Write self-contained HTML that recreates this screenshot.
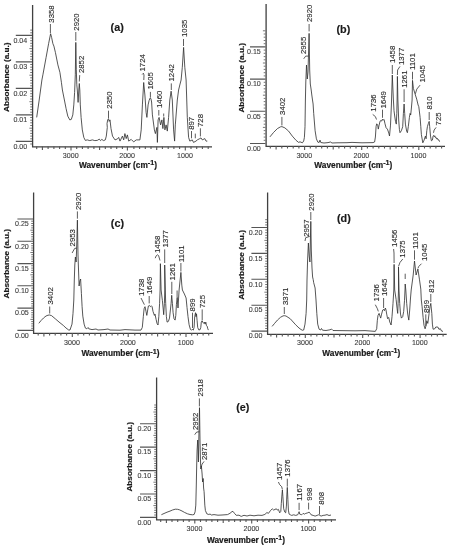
<!DOCTYPE html>
<html lang="en"><head><meta charset="utf-8"><title>FTIR spectra</title>
<style>
html,body{margin:0;padding:0;background:#fff;}
svg{display:block;font-family:"Liberation Sans",sans-serif;}
.ax{stroke:#404040;stroke-width:1.3;fill:none}
.tk{stroke:#555;stroke-width:1.1;fill:none}
.mt{stroke:#666;stroke-width:0.9;fill:none}
.cv{stroke:#303030;stroke-width:0.82;fill:none;stroke-linejoin:round}
.ld{stroke:#333;stroke-width:0.8;fill:none}
.tl{font-size:7.1px;fill:#3c3c3c;stroke:#3c3c3c;stroke-width:0.1}
.pk{font-size:7.8px;fill:#2a2a2a;stroke:#2a2a2a;stroke-width:0.12}
.ti{font-size:8.25px;font-weight:bold;fill:#1a1a1a;stroke:#1a1a1a;stroke-width:0.2}
 .tx{font-size:8.3px}
.pl{font-size:10.8px;font-weight:bold;fill:#1a1a1a;stroke:#1a1a1a;stroke-width:0.15}
</style></head><body>
<svg width="449" height="550" viewBox="0 0 449 550">
<rect width="449" height="550" fill="#fff"/>
<g>
<path class="ax" d="M32.6 5V146.8H212"/>
<path class="tk" d="M15.8 35.4H32M15.8 61.9H32M15.8 88.4H32M15.8 114.9H32M15.8 141.4H32"/>
<path class="mt" d="M30.2 30.1H32M30.2 32.8H32M30.2 38H32M30.2 40.7H32M30.2 43.3H32M30.2 46H32M29.4 48.6H32M30.2 51.3H32M30.2 54H32M30.2 56.6H32M30.2 59.2H32M30.2 64.5H32M30.2 67.2H32M30.2 69.8H32M30.2 72.5H32M29.4 75.2H32M30.2 77.8H32M30.2 80.4H32M30.2 83.1H32M30.2 85.8H32M30.2 91H32M30.2 93.7H32M30.2 96.3H32M30.2 99H32M29.4 101.7H32M30.2 104.3H32M30.2 106.9H32M30.2 109.6H32M30.2 112.2H32M30.2 117.5H32M30.2 120.2H32M30.2 122.8H32M30.2 125.5H32M29.4 128.2H32M30.2 130.8H32M30.2 133.4H32M30.2 136.1H32M30.2 138.8H32M30.2 144H32"/>
<text class="tl" x="13.4" y="42.6">0.04</text>
<text class="tl" x="13.4" y="69.1">0.03</text>
<text class="tl" x="13.4" y="95.6">0.02</text>
<text class="tl" x="13.4" y="122.1">0.01</text>
<text class="tl" x="13.4" y="148.6">0.00</text>
<path class="tk" d="M71 146.5V150.5M127.4 146.5V150.5M185.3 146.5V150.5M208.2 146.5V149M202.4 146.5V149M196.7 146.5V149M191 146.5V149M179.6 146.5V149M173.9 146.5V149M168.2 146.5V149M162.4 146.5V149M156.7 146.5V150M151 146.5V149M145.3 146.5V149M139.6 146.5V149M133.9 146.5V149M122.4 146.5V149M116.7 146.5V149M111 146.5V149M105.3 146.5V149M99.6 146.5V150M93.9 146.5V149M88.1 146.5V149M82.4 146.5V149M76.7 146.5V149M65.3 146.5V149M59.6 146.5V149M53.9 146.5V149M48.1 146.5V149M42.4 146.5V150M36.7 146.5V149"/>
<text class="tl" x="70.7" y="157.6" text-anchor="middle">3000</text>
<text class="tl" x="127.1" y="157.6" text-anchor="middle">2000</text>
<text class="tl" x="185" y="157.6" text-anchor="middle">1000</text>
<text class="ti tx" x="118" y="168" text-anchor="middle">Wavenumber (cm<tspan dy="-2.8" font-size="7.2">-1</tspan><tspan dy="2.8">)</tspan></text>
<text class="ti" transform="translate(8.8 77.2) rotate(-90) scale(1 0.88)" text-anchor="middle">Absorbance (a.u.)</text>
<text class="pl" x="110.6" y="31.2">(a)</text>
<polyline class="cv" points="36.7,117.4 39.2,100 41.9,80 42.9,74.8 46.1,57.4 48.6,43.7 50.6,33.7 51.6,37.4 52.9,43.7 53.9,46.1 55.4,52.4 57.9,64.9 59.9,72.3 61.4,82.3 62.4,90 64.4,100 66.1,108.7 67.8,116.2 69.8,119.9 71.3,119.4 72.8,114.9 73.8,104.9 74.6,92.5 75.1,80 75.3,74.8 75.8,42.4 76.3,69.8 76.8,84.8 77.3,90 78.1,102.4 78.8,90 79.3,83.5 79.8,90 80.3,104.9 81.1,117.4 82.3,129.9 83.8,137.4 85.3,140.4 87.3,139.9 89.8,140.6 92.3,139.9 94.8,140.6 97.3,140.4 99.3,139.1 100.5,140.6 101.8,139.4 103.5,140.6 105.3,139.9 106.3,136.1 107.3,127.4 107,123.7 107.7,119.9 108.5,118.7 109.2,121.4 110,119.9 111,128.6 112.5,136.1 115,139.9 117.5,138.9 118.7,137.4 120,141.1 122.4,136.1 123.7,139.9 124.9,133.6 126.2,138.6 127.4,134.9 128.7,141.1 131.2,139.4 133.7,141.9 136.2,139.9 139.9,139.9 141.2,129.9 142.4,104.9 143.7,82.5 143.9,84.8 144.9,95 146.1,112.4 146.9,117.4 148.1,104.9 149.1,100.5 150.1,98 150.9,98.5 151.6,102 152.4,114.9 154.4,129.9 155.4,133.6 156.9,127.4 157.4,142.4 158.1,119.9 159.1,117.4 160.6,124.9 161.9,119.9 162.9,128.6 163.9,117.4 164.9,129.9 166.1,124.9 167.3,131.1 168.6,117.4 169.8,100 171.1,91.2 172.3,100 173.6,129.9 174.6,141.1 175.3,124.9 177.3,100 178.6,90 179.8,85 181.1,80 182.3,67.3 183.6,47.4 184.8,67.3 186.1,80 187.3,117.4 188.6,137.4 189.8,141.1 192.3,139.9 193.5,142.4 196,141.1 197.3,139.9 199.8,138.6 201,137.9 202.3,139.9 204.8,138.6 206,141.1 207.3,141.1"/>
<text class="pk" transform="translate(53.6 22.7) rotate(-90) scale(1 1)">3358</text>
<text class="pk" transform="translate(78.8 30.7) rotate(-90) scale(1 1)">2920</text>
<text class="pk" transform="translate(83.7 73.1) rotate(-90) scale(1 1)">2852</text>
<text class="pk" transform="translate(111.8 108.7) rotate(-90) scale(1 1)">2350</text>
<text class="pk" transform="translate(144.6 71.5) rotate(-90) scale(1 1)">1724</text>
<text class="pk" transform="translate(153.3 89.5) rotate(-90) scale(1 1)">1605</text>
<text class="pk" transform="translate(161.8 108) rotate(-90) scale(1 1)">1460</text>
<text class="pk" transform="translate(174 81.5) rotate(-90) scale(1 1)">1242</text>
<text class="pk" transform="translate(186.5 37) rotate(-90) scale(1 1)">1035</text>
<text class="pk" transform="translate(193.6 129.8) rotate(-90) scale(1 1)">897</text>
<text class="pk" transform="translate(203 127) rotate(-90) scale(1 1)">728</text>
<path class="ld" d="M50.4 24L50.4 33M75.8 32L75.8 40.8M79.7 75.1L79.3 81.5M108.5 110.7L108.5 118.3M142.2 74.5L143.4 73.2L144 75L143.8 80M150.4 91.9L150.4 97.6M158.8 110L158.8 115.6M171.3 83.4L171.3 90M183.5 39L183.5 46M191.5 131L191.5 138.3M195.3 133.6L195.3 138.3M163.7 113.5L163.7 116.5M200.4 128.3L200.4 136.4"/>
</g>
<g>
<path class="ax" d="M266.1 4V146.3H445"/>
<path class="tk" d="M250 46.9H265.5M250 79.1H265.5M250 111.3H265.5M250 143.5H265.5"/>
<path class="mt" d="M262.9 30.8H265.5M263.7 34H265.5M263.7 37.2H265.5M263.7 40.5H265.5M263.7 43.7H265.5M263.7 50.1H265.5M263.7 53.3H265.5M263.7 56.6H265.5M263.7 59.8H265.5M262.9 63H265.5M263.7 66.2H265.5M263.7 69.4H265.5M263.7 72.7H265.5M263.7 75.9H265.5M263.7 82.3H265.5M263.7 85.5H265.5M263.7 88.8H265.5M263.7 92H265.5M262.9 95.2H265.5M263.7 98.4H265.5M263.7 101.6H265.5M263.7 104.9H265.5M263.7 108.1H265.5M263.7 114.5H265.5M263.7 117.7H265.5M263.7 121H265.5M263.7 124.2H265.5M262.9 127.4H265.5M263.7 130.6H265.5M263.7 133.8H265.5M263.7 137.1H265.5M263.7 140.3H265.5"/>
<text class="tl" x="247" y="54.1">0.15</text>
<text class="tl" x="247" y="86.3">0.10</text>
<text class="tl" x="247" y="118.5">0.05</text>
<text class="tl" x="247" y="150.7">0.00</text>
<path class="tk" d="M304.6 146V150M361.7 146V150M418.8 146V150M441.6 146V148.5M435.9 146V148.5M430.2 146V148.5M424.5 146V148.5M413.1 146V148.5M407.4 146V148.5M401.7 146V148.5M396 146V148.5M390.2 146V149.5M384.5 146V148.5M378.8 146V148.5M373.1 146V148.5M367.4 146V148.5M356 146V148.5M350.3 146V148.5M344.6 146V148.5M338.9 146V148.5M333.2 146V149.5M327.4 146V148.5M321.7 146V148.5M316 146V148.5M310.3 146V148.5M298.9 146V148.5M293.2 146V148.5M287.5 146V148.5M281.8 146V148.5M276.1 146V149.5M270.3 146V148.5"/>
<text class="tl" x="304.3" y="157.5" text-anchor="middle">3000</text>
<text class="tl" x="361.4" y="157.5" text-anchor="middle">2000</text>
<text class="tl" x="418.5" y="157.5" text-anchor="middle">1000</text>
<text class="ti tx" x="353.3" y="168" text-anchor="middle">Wavenumber (cm<tspan dy="-2.8" font-size="7.2">-1</tspan><tspan dy="2.8">)</tspan></text>
<text class="ti" transform="translate(244.3 77.8) rotate(-90) scale(1 0.88)" text-anchor="middle">Absorbance (a.u.)</text>
<text class="pl" x="336.5" y="33">(b)</text>
<polyline class="cv" points="269.9,136.9 273.6,132.4 277.4,128.6 280.4,126.9 281.9,126.6 284.9,127.9 288.6,131.1 292.3,136.1 296.1,140.4 298.6,142.4 300,141.8 302.4,142.8 303.7,141 304.4,137.4 305,126.7 305.4,100 305.8,82 306.5,65 307.3,79 308,72 309.1,33.4 309.7,70 310.3,84 311.2,90 311.8,95 312.5,100 313.1,104 313.7,113.4 315.1,130.7 316.4,138.8 317.8,142.1 319.1,142.5 320,140.1 320.8,142.5 324,143 328,142.6 330.5,142 332,143 337,142.8 347,142.7 352,142.4 362,142.8 373,142.6 374.6,142 375.4,137 376.1,126.4 376.7,123.8 377.7,125.1 378.3,129.1 379.1,125.1 380.1,121.1 381,120.4 381.8,121.1 382.5,119.1 383.4,120 384.1,119.5 385,123.8 386.1,127.8 387.4,129.1 388.8,133 389.5,136 390.5,125.1 391.4,105 392.3,75 393.4,100 394,110.7 394.7,116 395.5,121.4 396.3,124.1 396.8,113.4 397.1,100 397.4,76.4 397.9,100 398.7,120 399.4,129.4 400,132.7 401.4,130.7 402.7,126.7 403.4,113.4 404.1,104 404.7,113.4 405.4,124.1 406.7,131.4 407.4,132.7 408.3,126.7 409.4,117.4 410.1,113.4 410.7,115 411.4,108 412.1,100 412.5,80.4 413.4,88.4 415,93.8 416.7,99.1 418.1,105 418.8,106.7 420.1,117.4 420.8,126.7 421.4,134.7 422.8,142.8 424.1,140.1 425.4,136.1 426.1,138.8 426.8,130.7 427.4,126.7 428.4,123.4 429.2,121.4 429.7,126.7 430.5,136.1 431.4,140.8 432.4,140.1 433.1,136.1 433.7,135.4 434.3,136.7 434.8,135.8 435.5,137.7 436.1,137.4 436.8,139 437.5,138.5 438.1,140.1 438.8,139.8 439.6,141.7"/>
<text class="pk" transform="translate(284.6 114.9) rotate(-90) scale(1 1)">3402</text>
<text class="pk" transform="translate(306.4 54.1) rotate(-90) scale(1 1)">2955</text>
<text class="pk" transform="translate(312.4 22) rotate(-90) scale(1 1)">2920</text>
<text class="pk" transform="translate(375.7 111.7) rotate(-90) scale(1 1)">1736</text>
<text class="pk" transform="translate(385.8 108.4) rotate(-90) scale(1 1)">1649</text>
<text class="pk" transform="translate(395.4 63.1) rotate(-90) scale(1 1)">1458</text>
<text class="pk" transform="translate(404.3 65.1) rotate(-90) scale(1 1)">1377</text>
<text class="pk" transform="translate(407.4 87.8) rotate(-90) scale(1 1)">1261</text>
<text class="pk" transform="translate(415.4 70) rotate(-90) scale(1 1)">1101</text>
<text class="pk" transform="translate(424.8 82.5) rotate(-90) scale(1 1)">1045</text>
<text class="pk" transform="translate(432.3 109.5) rotate(-90) scale(1 1)">810</text>
<text class="pk" transform="translate(440.8 125.4) rotate(-90) scale(1 1)">725</text>
<path class="ld" d="M281.9 116.9L281.9 125.4M303.7 58.8L305.7 56.1L308.4 56.1M309.1 24L309.1 31.4M372.7 114.4L375.4 116.6L376.5 119.5M382.5 109.7L382.5 117.8M392.3 65L392.3 74M400 66.4L397.6 70L397.4 75M404.1 89.3L404.1 102M412.5 71.8L412.5 79.5M420.1 85.1L416.8 89.1L415.4 93.8M429.2 112L429.2 120M436.1 127.4L434.1 130.1L433.5 132.8"/>
</g>
<g>
<path class="ax" d="M33.6 192.5V333.3H213"/>
<path class="tk" d="M17.4 219H33M17.4 241.3H33M17.4 263.6H33M17.4 285.8H33M17.4 308.1H33M17.4 330.4H33"/>
<path class="mt" d="M31.2 221.2H33M31.2 223.5H33M31.2 225.7H33M31.2 227.9H33M30.4 230.2H33M31.2 232.4H33M31.2 234.6H33M31.2 236.8H33M31.2 239.1H33M31.2 243.5H33M31.2 245.8H33M31.2 248H33M31.2 250.2H33M30.4 252.5H33M31.2 254.7H33M31.2 256.9H33M31.2 259.1H33M31.2 261.4H33M31.2 265.8H33M31.2 268.1H33M31.2 270.3H33M31.2 272.5H33M30.4 274.8H33M31.2 277H33M31.2 279.2H33M31.2 281.4H33M31.2 283.7H33M31.2 288.1H33M31.2 290.4H33M31.2 292.6H33M31.2 294.8H33M30.4 297.1H33M31.2 299.3H33M31.2 301.5H33M31.2 303.7H33M31.2 306H33M31.2 310.4H33M31.2 312.7H33M31.2 314.9H33M31.2 317.1H33M30.4 319.4H33M31.2 321.6H33M31.2 323.8H33M31.2 326H33M31.2 328.3H33"/>
<text class="tl" x="15" y="226.2">0.25</text>
<text class="tl" x="15" y="248.5">0.20</text>
<text class="tl" x="15" y="270.8">0.15</text>
<text class="tl" x="15" y="293">0.10</text>
<text class="tl" x="15" y="315.3">0.05</text>
<text class="tl" x="15" y="337.6">0.00</text>
<path class="tk" d="M72.3 333V337M128.2 333V337M186 333V337M208.7 333V335.5M203.1 333V335.5M197.4 333V335.5M191.7 333V335.5M180.3 333V335.5M174.6 333V335.5M168.9 333V335.5M163.3 333V335.5M157.6 333V336.5M151.9 333V335.5M146.2 333V335.5M140.5 333V335.5M134.8 333V335.5M123.5 333V335.5M117.8 333V335.5M112.1 333V335.5M106.4 333V335.5M100.7 333V336.5M95 333V335.5M89.4 333V335.5M83.7 333V335.5M78 333V335.5M66.6 333V335.5M60.9 333V335.5M55.2 333V335.5M49.6 333V335.5M43.9 333V336.5M38.2 333V335.5"/>
<text class="tl" x="72" y="344.8" text-anchor="middle">3000</text>
<text class="tl" x="127.9" y="344.8" text-anchor="middle">2000</text>
<text class="tl" x="185.7" y="344.8" text-anchor="middle">1000</text>
<text class="ti tx" x="120.5" y="356.3" text-anchor="middle">Wavenumber (cm<tspan dy="-2.8" font-size="7.2">-1</tspan><tspan dy="2.8">)</tspan></text>
<text class="ti" transform="translate(8.8 263.7) rotate(-90) scale(1 0.88)" text-anchor="middle">Absorbance (a.u.)</text>
<text class="pl" x="110.8" y="227.2">(c)</text>
<polyline class="cv" points="38.8,323.3 41,320.6 43.5,318 46,316 48,315.2 49.5,315 51.5,315.6 55.3,318.8 59,322 63.4,325.5 66,328 68.7,330 70,330 72,324.1 73,313.4 73.8,300 74.3,280 74.8,265 75.4,257 76.1,262 76.6,250 77.4,220.1 78,255 78.6,272 79.1,286 79.8,281 80.6,279 81.4,293.4 82.1,306.7 82.8,316.1 84.1,324.1 85.4,328.1 86.8,328.8 88.1,327.5 88.8,328.8 92,329.6 96,329 98,330 104,329.6 108,329 110,330 120,330.2 125,329.6 135,330.1 141,330.1 142.3,327.4 143.3,316.7 144.1,308.7 145,306.7 146,311.4 146.8,315.4 147.7,310 148.4,306 149.4,305.4 150.4,306.7 151.3,305.8 152.1,306.7 153,311.4 154.4,315.4 155,314.1 156.1,319.4 157,323.4 158,325 158.8,316.7 159.6,303.4 160.1,290 160.4,263.7 161.1,290 162.4,300.7 163.3,310 163.7,314.7 164.4,303.4 164.8,290 164.7,265 165.3,290 165.7,303.4 166.4,316.7 167.1,322.1 168.4,321.4 169.5,318.1 170.4,310 171.1,303.4 171.7,295.3 172.4,303.4 173.1,312.7 174,318.7 175.1,320.1 175.8,315.4 176.4,304.7 177.2,297.3 178,308 178.6,298 179.1,290 180.9,272.4 181.8,285.1 182.4,290 184.4,294 186.1,298 187,307.4 188,316.7 189.1,324.7 190.4,329.4 191.7,330.1 192.4,329.4 193.3,330.1 194.1,327.4 194.7,316.7 195.5,312.7 196,316.7 196.5,313.8 197.1,320.7 197.7,327.4 198.7,329.8 200,329.8 200.8,327.4 201.3,322.1 202.1,320.7 203.1,322.7 203.8,323.4 204.4,322.1 205.1,324.1 205.8,322.1 206.4,325.4 207.1,326.1 207.8,328.8 208.4,330.1"/>
<text class="pk" transform="translate(53.2 304.5) rotate(-90) scale(1 1)">3402</text>
<text class="pk" transform="translate(75.4 246.4) rotate(-90) scale(1 1)">2953</text>
<text class="pk" transform="translate(80.7 210) rotate(-90) scale(1 1)">2920</text>
<text class="pk" transform="translate(143.7 296) rotate(-90) scale(1 1)">1738</text>
<text class="pk" transform="translate(152.4 294) rotate(-90) scale(1 1)">1649</text>
<text class="pk" transform="translate(160.4 253) rotate(-90) scale(1 1)">1458</text>
<text class="pk" transform="translate(168 247.4) rotate(-90) scale(1 1)">1377</text>
<text class="pk" transform="translate(175.1 280.4) rotate(-90) scale(1 1)">1261</text>
<text class="pk" transform="translate(183.5 262.2) rotate(-90) scale(1 1)">1101</text>
<text class="pk" transform="translate(195.1 311.4) rotate(-90) scale(1 1)">899</text>
<text class="pk" transform="translate(205.1 308) rotate(-90) scale(1 1)">725</text>
<path class="ld" d="M49.7 306.5L49.7 313.5M72.1 253L74.7 248.4L76.7 248.1M77.4 211.4L77.4 218.7M141 298L143 302L144.4 304.7M149.2 296L149.2 303.4M155.2 258.2L156.2 255.8L157.4 254.8L158.6 255.6L160 260.5M164.7 249.4L164.7 263M171.8 281.8L171.8 294M180.9 263L180.9 271.5M192.5 312.7L192.5 328M202.2 309.4L202.2 320M177.1 290.5L177.1 297"/>
</g>
<g>
<path class="ax" d="M267.6 192.5V334.3H446.7"/>
<path class="tk" d="M251.4 227.5H267M251.4 253.4H267M251.4 279.3H267M251.4 305.2H267M251.4 331.1H267"/>
<path class="mt" d="M265.2 219.7H267M265.2 222.3H267M265.2 224.9H267M265.2 230.1H267M265.2 232.7H267M265.2 235.3H267M265.2 237.9H267M264.4 240.4H267M265.2 243H267M265.2 245.6H267M265.2 248.2H267M265.2 250.8H267M265.2 256H267M265.2 258.6H267M265.2 261.2H267M265.2 263.8H267M264.4 266.4H267M265.2 268.9H267M265.2 271.5H267M265.2 274.1H267M265.2 276.7H267M265.2 281.9H267M265.2 284.5H267M265.2 287.1H267M265.2 289.7H267M264.4 292.2H267M265.2 294.8H267M265.2 297.4H267M265.2 300H267M265.2 302.6H267M265.2 307.8H267M265.2 310.4H267M265.2 313H267M265.2 315.6H267M264.4 318.2H267M265.2 320.7H267M265.2 323.3H267M265.2 325.9H267M265.2 328.5H267"/>
<text class="tl" x="248.7" y="234.7">0.20</text>
<text class="tl" x="248.7" y="260.6">0.15</text>
<text class="tl" x="248.7" y="286.5">0.10</text>
<text class="tl" x="248.7" y="312.4">0.05</text>
<text class="tl" x="248.7" y="338.3">0.00</text>
<path class="tk" d="M305.3 334V338M362.7 334V338M420.1 334V338M443.1 334V336.5M437.3 334V336.5M431.6 334V336.5M425.8 334V336.5M414.4 334V336.5M408.6 334V336.5M402.9 334V336.5M397.1 334V336.5M391.4 334V337.5M385.7 334V336.5M379.9 334V336.5M374.2 334V336.5M368.4 334V336.5M357 334V336.5M351.2 334V336.5M345.5 334V336.5M339.7 334V336.5M334 334V337.5M328.3 334V336.5M322.5 334V336.5M316.8 334V336.5M311 334V336.5M299.6 334V336.5M293.8 334V336.5M288.1 334V336.5M282.3 334V336.5M276.6 334V337.5M270.9 334V336.5"/>
<text class="tl" x="305" y="345.4" text-anchor="middle">3000</text>
<text class="tl" x="362.4" y="345.4" text-anchor="middle">2000</text>
<text class="tl" x="419.8" y="345.4" text-anchor="middle">1000</text>
<text class="ti tx" x="361.3" y="356.1" text-anchor="middle">Wavenumber (cm<tspan dy="-2.8" font-size="7.2">-1</tspan><tspan dy="2.8">)</tspan></text>
<text class="ti" transform="translate(244.3 264.9) rotate(-90) scale(1 0.88)" text-anchor="middle">Absorbance (a.u.)</text>
<text class="pl" x="337" y="222">(d)</text>
<polyline class="cv" points="272.1,326.4 274.5,323.5 277.5,320 280.5,317.3 283,315.9 284.3,315.7 286,316 290.3,318.8 295.7,324.8 299,328 301,329.5 302.5,330.3 303.7,330 305,324.1 306.1,313.4 306.7,300 307,280 307.6,260 308.4,243 309.2,256 309.9,262 310.8,221.4 311.3,250 312,268 312.6,277 313.2,279.5 313.7,282.7 315.1,288 316,300 316.8,313.4 317.7,324.1 319.1,329.2 320.5,330 321.5,328.5 322.5,330.2 326,330.5 330,329.8 331.5,329 333,330.5 340,330.6 355,330.8 365,330.6 375.3,331.4 376.7,328.8 377.3,320.7 378,315.4 379.1,313.4 380,316.1 380.7,318.1 381.6,314.1 382.7,310 383.8,309.4 384.4,310.7 385.4,308 386,310 386.7,314.1 387.6,318.7 388.7,317.4 389.8,322.1 391.1,325 392,316.7 393,303.4 393.8,290 394.1,264.4 394.7,290 396.1,299.4 397.1,308.7 397.7,313.4 398.1,303.4 398.5,290 398.5,267 399,290 399.7,303.4 400.5,314.1 401.4,318.1 402.7,316.7 403.7,311.4 404.5,300.7 405,290 405.2,284 405.8,290 406.7,303.4 407.7,314.1 408.8,320.1 409.7,310 410.5,298 411.2,290 413.2,275 414.5,261 415.3,268 416.1,275 417.9,269 419.5,279.8 420.8,289.1 421.3,300 422.1,306.7 423.1,317.4 424,325.4 425.1,328.8 426.1,325.4 426.8,320.8 427.8,323.4 429.1,313.4 430,306.7 430.8,303.4 431.8,313.4 432.4,324.1 433.1,329.2 434.5,329 435.8,327 437.8,327 439,329.4 440.3,328.6 441.5,331 443,331.4"/>
<text class="pk" transform="translate(287.8 305) rotate(-90) scale(1 1)">3371</text>
<text class="pk" transform="translate(309 236.8) rotate(-90) scale(1 1)">2957</text>
<text class="pk" transform="translate(313.7 210.7) rotate(-90) scale(1 1)">2920</text>
<text class="pk" transform="translate(378.7 301.4) rotate(-90) scale(1 1)">1736</text>
<text class="pk" transform="translate(387.4 296) rotate(-90) scale(1 1)">1645</text>
<text class="pk" transform="translate(397 246.9) rotate(-90) scale(1 1)">1456</text>
<text class="pk" transform="translate(405.4 257.7) rotate(-90) scale(1 1)">1375</text>
<text class="pk" transform="translate(417.6 249) rotate(-90) scale(1 1)">1101</text>
<text class="pk" transform="translate(426.8 261) rotate(-90) scale(1 1)">1045</text>
<text class="pk" transform="translate(428.6 313) rotate(-90) scale(1 1)">899</text>
<text class="pk" transform="translate(433.8 292.7) rotate(-90) scale(1 1)">812</text>
<path class="ld" d="M284.3 307L284.3 314M305 241L305.7 237.7L309.7 236.4M310.8 212L310.8 220M375.3 304.7L377.4 308.7L378.3 311.4M383.6 298L383.6 308M393.6 249L394 253L394.1 263M402.8 259L400 262.4L398.5 266.4M414.5 250.3L414.5 259.7M421.5 263.7L418.8 266.4L417.9 268.4M425.8 314.3L425.8 326M430.8 294L430.8 302M405.2 273.7L405.2 279"/>
</g>
<g>
<path class="ax" d="M156.6 377.5V519.9H336"/>
<path class="tk" d="M140 423.7H156M140 447.1H156M140 470.6H156M140 494H156M140 517.4H156"/>
<path class="mt" d="M154.2 405H156M154.2 407.3H156M154.2 409.7H156M153.4 412H156M154.2 414.3H156M154.2 416.7H156M154.2 419H156M154.2 421.4H156M154.2 426H156M154.2 428.4H156M154.2 430.7H156M154.2 433.1H156M153.4 435.4H156M154.2 437.7H156M154.2 440.1H156M154.2 442.4H156M154.2 444.8H156M154.2 449.4H156M154.2 451.8H156M154.2 454.1H156M154.2 456.5H156M153.4 458.8H156M154.2 461.1H156M154.2 463.5H156M154.2 465.8H156M154.2 468.2H156M154.2 472.8H156M154.2 475.2H156M154.2 477.5H156M154.2 479.9H156M153.4 482.2H156M154.2 484.5H156M154.2 486.9H156M154.2 489.2H156M154.2 491.6H156M154.2 496.2H156M154.2 498.6H156M154.2 500.9H156M154.2 503.3H156M153.4 505.6H156M154.2 507.9H156M154.2 510.3H156M154.2 512.6H156M154.2 515H156"/>
<text class="tl" x="137.4" y="430.9">0.20</text>
<text class="tl" x="137.4" y="454.3">0.15</text>
<text class="tl" x="137.4" y="477.8">0.10</text>
<text class="tl" x="137.4" y="501.2">0.05</text>
<text class="tl" x="137.4" y="524.6">0.00</text>
<path class="tk" d="M194.8 519.6V523.6M251.7 519.6V523.6M308.6 519.6V523.6M331.4 519.6V522.1M325.7 519.6V522.1M320 519.6V522.1M314.3 519.6V522.1M302.9 519.6V522.1M297.2 519.6V522.1M291.5 519.6V522.1M285.8 519.6V522.1M280.1 519.6V523.1M274.5 519.6V522.1M268.8 519.6V522.1M263.1 519.6V522.1M257.4 519.6V522.1M246 519.6V522.1M240.3 519.6V522.1M234.6 519.6V522.1M228.9 519.6V522.1M223.2 519.6V523.1M217.6 519.6V522.1M211.9 519.6V522.1M206.2 519.6V522.1M200.5 519.6V522.1M189.1 519.6V522.1M183.4 519.6V522.1M177.7 519.6V522.1M172 519.6V522.1M166.4 519.6V523.1M160.7 519.6V522.1"/>
<text class="tl" x="194.5" y="530.7" text-anchor="middle">3000</text>
<text class="tl" x="251.4" y="530.7" text-anchor="middle">2000</text>
<text class="tl" x="308.3" y="530.7" text-anchor="middle">1000</text>
<text class="ti tx" x="246" y="543" text-anchor="middle">Wavenumber (cm<tspan dy="-2.8" font-size="7.2">-1</tspan><tspan dy="2.8">)</tspan></text>
<text class="ti" transform="translate(132.3 456.8) rotate(-90) scale(1 0.88)" text-anchor="middle">Absorbance (a.u.)</text>
<text class="pl" x="236.2" y="410.8">(e)</text>
<polyline class="cv" points="161.4,514.7 164,513.5 167,512.2 170,511.1 172.5,510 175.3,509.2 177.5,509.3 179.4,509.8 182,511 184.7,512.5 187.5,513.8 190,514.5 192.5,514.8 194.1,514.5 195.1,511.8 195.8,505.1 196.3,485 196.7,465 197.1,450 197.7,440 198.1,452 198.4,462 198.8,440 199.5,407.7 200,440 200.4,458 200.8,469 201.4,466 202.1,474 202.6,482 203.2,478.5 203.6,488 204.1,491.7 204.8,505.1 205.4,510.5 206.8,513.8 208.8,514.5 210,514 211.5,515 214,514.6 218,515.2 222,515 227.5,514.6 230,513.3 232,511.6 233,511.4 234.5,513.4 236.2,515.3 239,515.2 241.2,516.4 244,515.3 247,516 250,515.2 254,515.8 258,515.2 262,515.4 264.9,514.4 266.9,512.6 268.5,513.3 270.3,510.8 272.3,508.8 273.7,510.1 275,509.4 276.4,508.8 277.3,510.1 278.4,509.4 279.7,512.8 280.8,511.4 281.3,503.4 282,494.1 282.4,490 282.9,496.7 283.7,508.8 284.8,512.1 285.7,512.8 286.4,506.1 286.9,494.1 287.3,487.4 287.9,499.4 288.4,510.1 289.1,514.1 290.4,514.8 291.7,515.4 293.7,514.8 295.7,515.4 297.7,514.8 298.4,513.4 299.1,511.7 299.7,514.1 301.7,514.8 303.1,513.4 304.4,514.1 305.8,513.4 307.8,512.8 309.1,512.1 310.2,513.4 311.1,514.8 313.1,515.4 315.1,516.1 317.1,515.4 318.5,514.8 319.5,515.2 321.1,516.1 323.1,515.4 325,515.2 327,514.6 329,515.5 331,515"/>
<text class="pk" transform="translate(198 430) rotate(-90) scale(1 1)">2952</text>
<text class="pk" transform="translate(202.7 396.4) rotate(-90) scale(1 1)">2918</text>
<text class="pk" transform="translate(207.4 460.1) rotate(-90) scale(1 1)">2871</text>
<text class="pk" transform="translate(282.4 480) rotate(-90) scale(1 1)">1457</text>
<text class="pk" transform="translate(290.4 476.7) rotate(-90) scale(1 1)">1376</text>
<text class="pk" transform="translate(302.4 500.7) rotate(-90) scale(1 1)">1167</text>
<text class="pk" transform="translate(311.6 500.7) rotate(-90) scale(1 1)">998</text>
<text class="pk" transform="translate(323.6 504.8) rotate(-90) scale(1 1)">808</text>
<path class="ld" d="M194.7 434.7L196.7 432L199.4 431.8M199.4 398.4L199.4 406.4M204.1 461.4L202.1 464.1L201.2 467M278.4 482L279.7 484.7L281.7 486.7L282.4 489.5M287.3 478.7L287.3 486.7M299.1 502.8L299.1 510.1M308.6 502.7L308.6 509.5M319.5 506L319.5 514.5"/>
</g>
</svg>
</body></html>
